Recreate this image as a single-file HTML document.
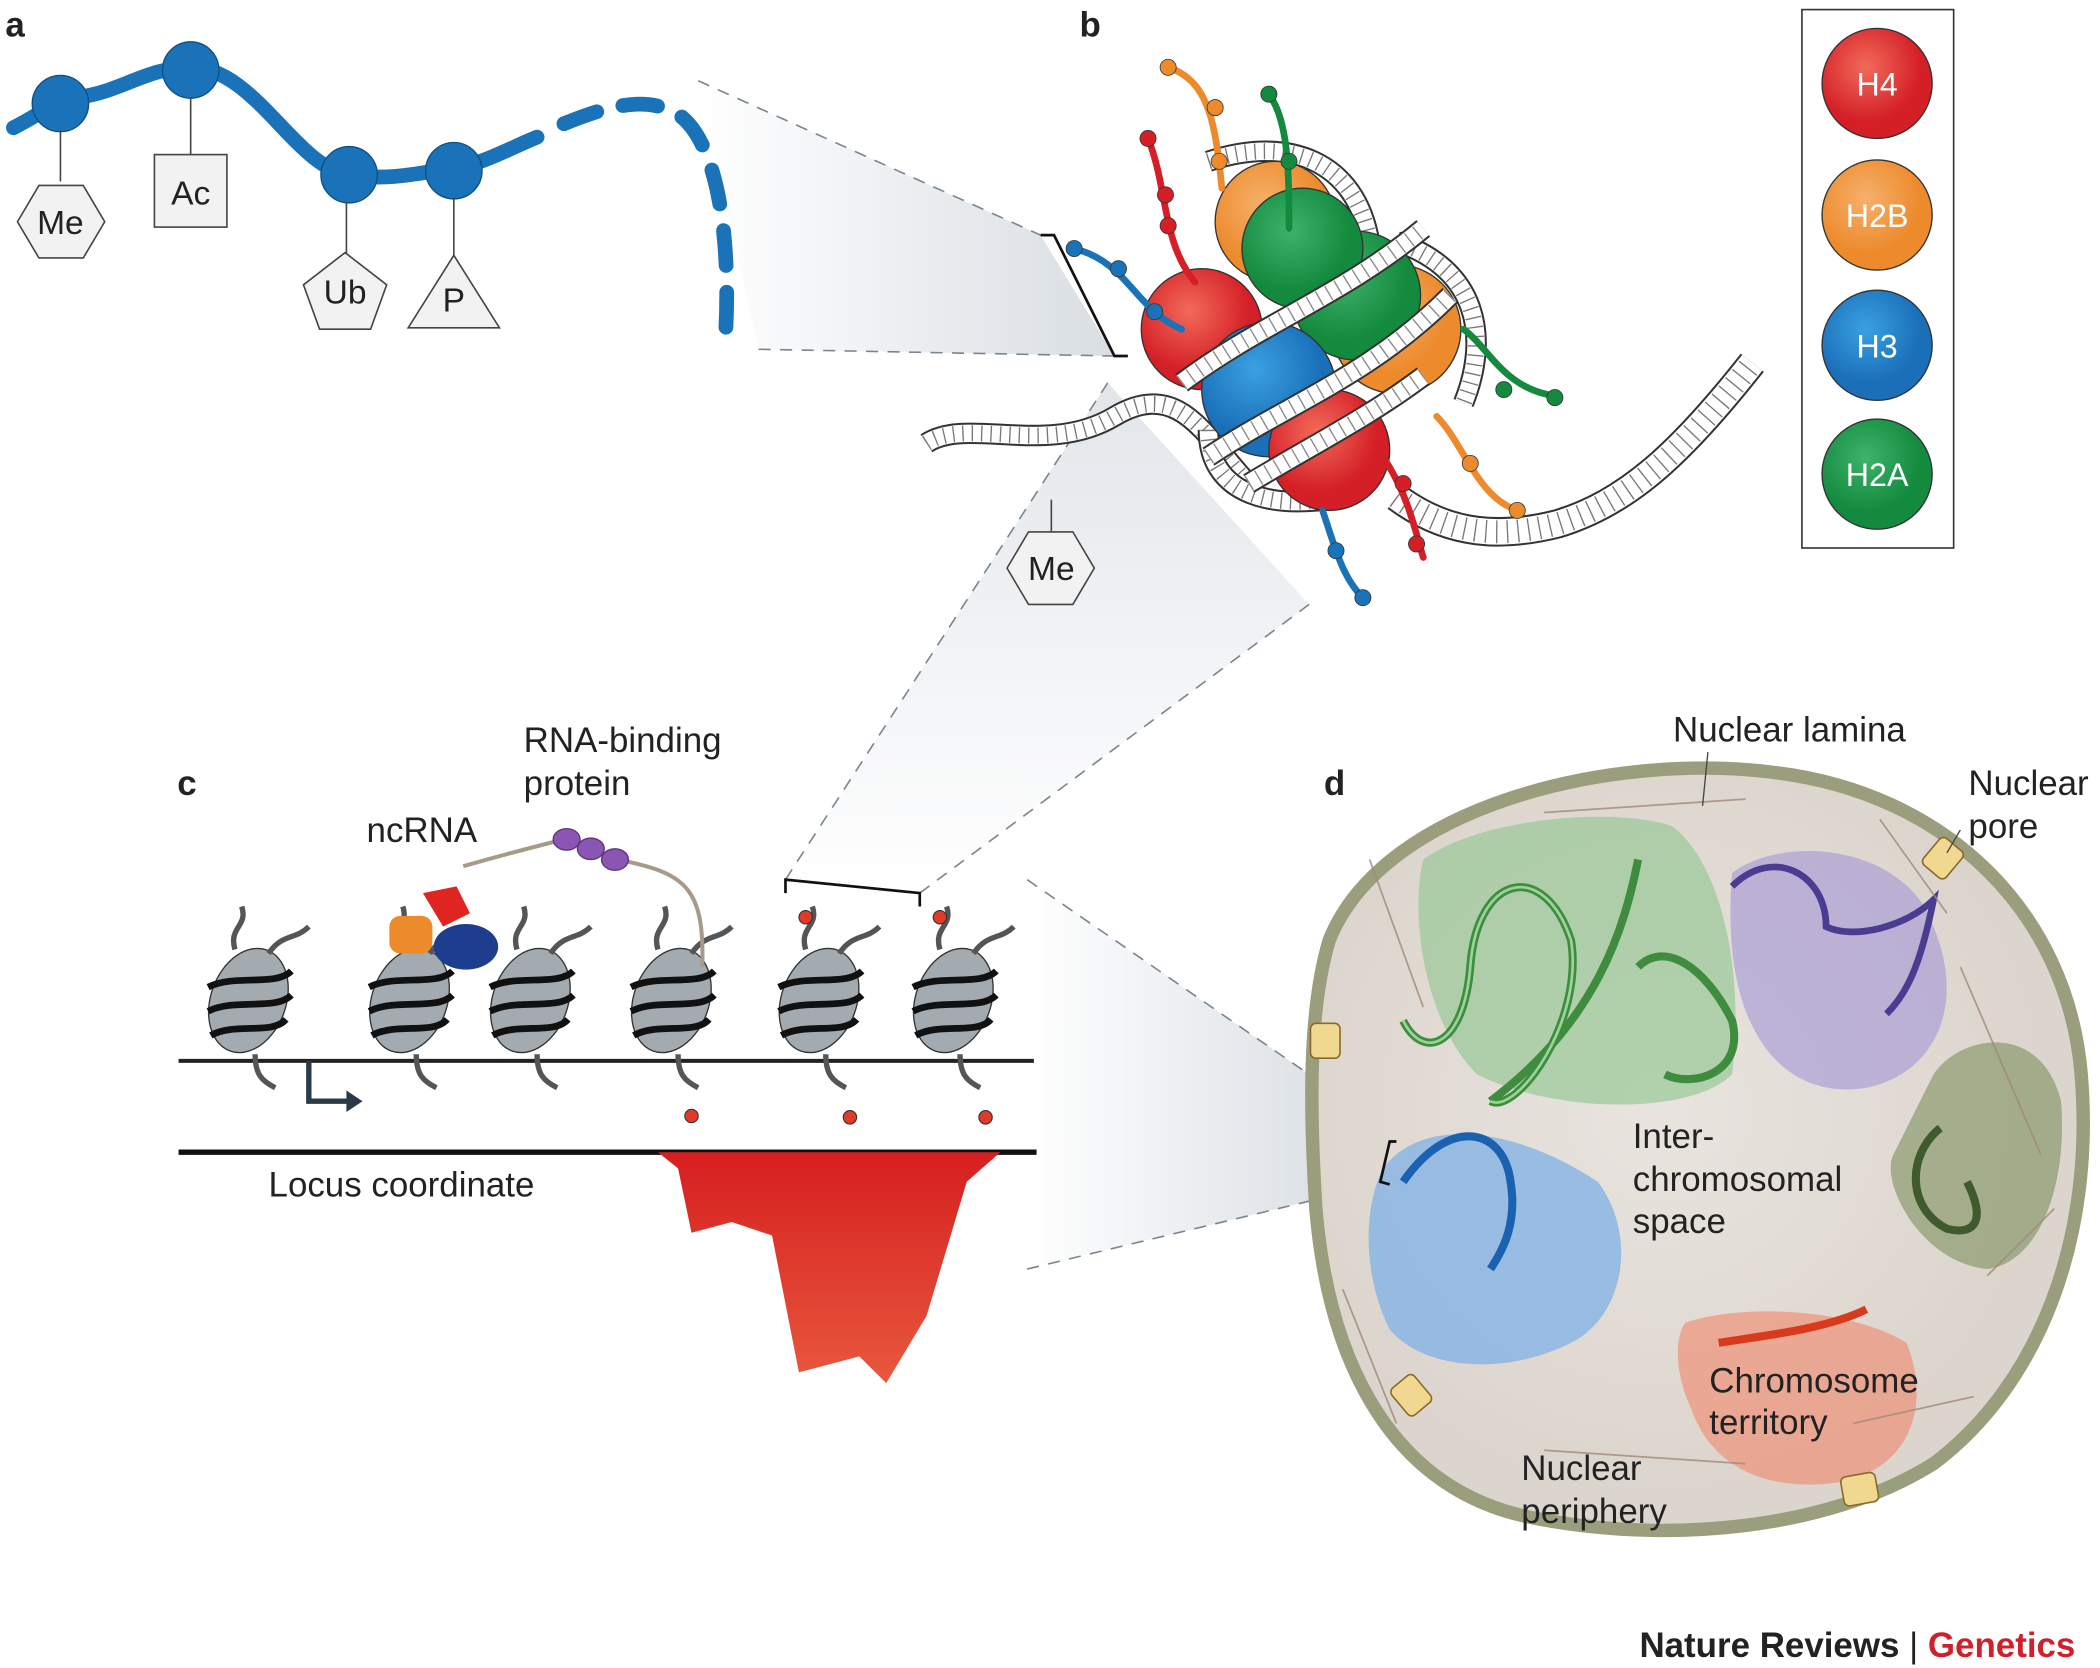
<!DOCTYPE html>
<html><head><meta charset="utf-8"><style>html,body{margin:0;padding:0;background:#fff}svg{display:block}text{font-family:"Liberation Sans",sans-serif}</style></head><body>
<svg width="2100" height="1668" viewBox="0 0 1564 1242" xmlns="http://www.w3.org/2000/svg">
<defs>
<linearGradient id="wg" x1="0" x2="1"><stop offset="0" stop-color="#fff"/><stop offset="1" stop-color="#d9dee3"/></linearGradient>
<linearGradient id="wg2" x1="0" x2="0" y1="1" y2="0"><stop offset="0" stop-color="#fff"/><stop offset="1" stop-color="#e2e6ea"/></linearGradient>
<linearGradient id="wg3" x1="1" x2="0"><stop offset="0" stop-color="#cfd6dc"/><stop offset="1" stop-color="#fff"/></linearGradient>
<linearGradient id="red" x1="0" x2="0" y1="0" y2="1"><stop offset="0" stop-color="#d61f1f"/><stop offset="1" stop-color="#e8583e"/></linearGradient>
<radialGradient id="gR" cx=".4" cy=".35"><stop offset="0" stop-color="#f26a5a"/><stop offset="1" stop-color="#d41f26"/></radialGradient>
<radialGradient id="gO" cx=".4" cy=".35"><stop offset="0" stop-color="#f7b06a"/><stop offset="1" stop-color="#ec8a2c"/></radialGradient>
<radialGradient id="gB" cx=".4" cy=".35"><stop offset="0" stop-color="#3aa0e0"/><stop offset="1" stop-color="#1a6fb8"/></radialGradient>
<radialGradient id="gG" cx=".4" cy=".35"><stop offset="0" stop-color="#3db36a"/><stop offset="1" stop-color="#138a3e"/></radialGradient>
<radialGradient id="gN" cx=".45" cy=".45"><stop offset="0" stop-color="#e9e4df"/><stop offset="1" stop-color="#dcd5cd"/></radialGradient>
</defs>
<g font-weight="bold" font-size="26" fill="#222"><text x="4" y="27">a</text><text x="804" y="27">b</text><text x="132" y="592">c</text><text x="986" y="592">d</text></g>

<polygon points="825,285 975,450 685,665 585,655" fill="url(#wg2)"/>
<path d="M825,285 L585,655 M975,450 L685,665" stroke="#7a8590" stroke-width="1.2" stroke-dasharray="9,7" fill="none"/>
<path d="M585,665 L585,655 L685,665 L685,675" stroke="#111" stroke-width="2" fill="none"/>

<polygon points="520,60 775,175 830,265 565,260" fill="url(#wg)"/>
<path d="M520,60 L775,175 M565,260 L830,265" stroke="#7a8590" stroke-width="1.2" stroke-dasharray="9,7" fill="none"/>
<path d="M775,175 L785,175 L830,265 L840,265" stroke="#111" stroke-width="2" fill="none"/>
<path d="M10,95 C30,85 40,75 60,72 C90,68 110,50 142,50 C190,50 220,125 260,130 C290,135 315,128 338,125 C360,122 380,110 400,102" stroke="#1a72b8" stroke-width="11" fill="none" stroke-linecap="round"/>
<path d="M420,92 C450,80 480,70 505,85 C535,105 545,180 540,255" stroke="#1a72b8" stroke-width="11" fill="none" stroke-linecap="round" stroke-dasharray="26,20"/>
<g fill="#1a72b8" stroke="#0f4f85" stroke-width="1"><circle cx="45" cy="77" r="21"/><circle cx="142" cy="52" r="21"/><circle cx="260" cy="130" r="21"/><circle cx="338" cy="127" r="21"/></g>
<g stroke="#444" stroke-width="1.2" fill="#f2f2f2">
<line x1="45" y1="97" x2="45" y2="135"/><line x1="142" y1="72" x2="142" y2="115"/><line x1="258" y1="150" x2="258" y2="190"/><line x1="338" y1="147" x2="338" y2="190"/>
<polygon points="13,165 29,138 62,138 78,165 62,192 29,192"/>
<rect x="115" y="115" width="54" height="54"/>
<polygon points="257,188 288,212 276,245 238,245 226,212"/>
<polygon points="338,190 372,244 304,244"/>
<polygon points="750,423 766,396 799,396 815,423 799,450 766,450"/>
</g>
<g font-size="25" fill="#222" text-anchor="middle"><text x="45" y="174">Me</text><text x="142" y="152">Ac</text><text x="257" y="226">Ub</text><text x="338" y="232">P</text><text x="783" y="432">Me</text></g>
<line x1="783" y1="396" x2="783" y2="372" stroke="#444" stroke-width="1.2"/>

<g fill="none">
<path d="M690,330 C720,310 780,340 830,310 C880,280 900,330 930,360" stroke="#333" stroke-width="16"/>
<path d="M690,330 C720,310 780,340 830,310 C880,280 900,330 930,360" stroke="#fff" stroke-width="13"/>
<path d="M690,330 C720,310 780,340 830,310 C880,280 900,330 930,360" stroke="#777" stroke-width="12" stroke-dasharray="1,6"/>
<path d="M1040,370 C1080,400 1120,400 1160,390 C1210,375 1250,340 1305,270" stroke="#333" stroke-width="22"/>
<path d="M1040,370 C1080,400 1120,400 1160,390 C1210,375 1250,340 1305,270" stroke="#fff" stroke-width="19"/>
<path d="M1040,370 C1080,400 1120,400 1160,390 C1210,375 1250,340 1305,270" stroke="#777" stroke-width="17" stroke-dasharray="1,7"/>
<path d="M900,120 C960,100 1010,120 1020,180 M1040,180 C1100,200 1110,250 1090,300 M900,320 C900,370 950,380 1000,370" stroke="#333" stroke-width="16"/>
<path d="M900,120 C960,100 1010,120 1020,180 M1040,180 C1100,200 1110,250 1090,300 M900,320 C900,370 950,380 1000,370" stroke="#fff" stroke-width="13"/>
<path d="M900,120 C960,100 1010,120 1020,180 M1040,180 C1100,200 1110,250 1090,300 M900,320 C900,370 950,380 1000,370" stroke="#777" stroke-width="12" stroke-dasharray="1,6"/>
</g>
<g stroke="#333" stroke-width="1">
<circle cx="950" cy="165" r="45" fill="url(#gO)"/>
<circle cx="1040" cy="245" r="48" fill="url(#gO)"/>
<circle cx="1010" cy="220" r="48" fill="url(#gG)"/>
<circle cx="970" cy="185" r="45" fill="url(#gG)"/>
<circle cx="895" cy="245" r="45" fill="url(#gR)"/>
<circle cx="945" cy="290" r="50" fill="url(#gB)"/>
<circle cx="990" cy="335" r="45" fill="url(#gR)"/>
</g>
<g fill="none">
<path d="M880,285 C940,240 1000,220 1060,170 M900,340 C960,300 1020,280 1080,220 M930,360 C980,330 1020,310 1060,280" stroke="#333" stroke-width="16"/>
<path d="M880,285 C940,240 1000,220 1060,170 M900,340 C960,300 1020,280 1080,220 M930,360 C980,330 1020,310 1060,280" stroke="#fff" stroke-width="13"/>
<path d="M880,285 C940,240 1000,220 1060,170 M900,340 C960,300 1020,280 1080,220 M930,360 C980,330 1020,310 1060,280" stroke="#888" stroke-width="12" stroke-dasharray="1,7"/>
</g>
<g fill="none" stroke-width="5" stroke-linecap="round">
<path d="M800,185 C840,195 845,230 880,245" stroke="#1a72b8"/>
<path d="M855,103 C870,140 865,180 890,210" stroke="#d41f26"/>
<path d="M870,50 C900,60 905,90 910,140" stroke="#ec8a2c"/>
<path d="M945,70 C960,90 960,130 960,170" stroke="#138a3e"/>
<path d="M1090,245 C1110,260 1120,290 1160,295" stroke="#138a3e"/>
<path d="M1070,310 C1090,330 1100,370 1130,380" stroke="#ec8a2c"/>
<path d="M1030,340 C1050,370 1055,400 1060,415" stroke="#d41f26"/>
<path d="M985,380 C995,410 1000,430 1015,445" stroke="#1a72b8"/>
</g>
<g stroke="#333" stroke-width=".6">
<g fill="#1a72b8"><circle cx="800" cy="185" r="6"/><circle cx="833" cy="200" r="6"/><circle cx="860" cy="232" r="6"/><circle cx="995" cy="410" r="6"/><circle cx="1015" cy="445" r="6"/></g>
<g fill="#d41f26"><circle cx="855" cy="103" r="6"/><circle cx="868" cy="145" r="6"/><circle cx="870" cy="168" r="6"/><circle cx="1045" cy="360" r="6"/><circle cx="1055" cy="405" r="6"/></g>
<g fill="#ec8a2c"><circle cx="870" cy="50" r="6"/><circle cx="905" cy="80" r="6"/><circle cx="908" cy="120" r="6"/><circle cx="1095" cy="345" r="6"/><circle cx="1130" cy="380" r="6"/></g>
<g fill="#138a3e"><circle cx="945" cy="70" r="6"/><circle cx="960" cy="120" r="6"/><circle cx="1120" cy="290" r="6"/><circle cx="1158" cy="296" r="6"/></g>
</g>
<rect x="1342" y="7" width="113" height="401" fill="#fff" stroke="#333" stroke-width="1.2"/>
<g stroke="#333" stroke-width="1"><circle cx="1398" cy="62" r="41" fill="url(#gR)"/><circle cx="1398" cy="160" r="41" fill="url(#gO)"/><circle cx="1398" cy="257" r="41" fill="url(#gB)"/><circle cx="1398" cy="353" r="41" fill="url(#gG)"/></g>
<g font-size="24" fill="#fff" text-anchor="middle"><text x="1398" y="71">H4</text><text x="1398" y="169">H2B</text><text x="1398" y="266">H3</text><text x="1398" y="362">H2A</text></g>

<polygon points="765,655 1040,845 1035,880 765,945" fill="url(#wg3)" opacity=".9"/>
<path d="M765,655 L1040,845 M765,945 L1035,880" stroke="#7a8590" stroke-width="1.2" stroke-dasharray="9,7" fill="none"/>

<line x1="133" y1="790" x2="770" y2="790" stroke="#222" stroke-width="3"/>
<g id="nucs">
<g transform="translate(185,745)"><ellipse cx="0" cy="0" rx="28" ry="40" fill="#a3aab0" stroke="#333" transform="rotate(20)"/><path d="M-30,-10 C-10,-20 20,-10 32,-22 M-30,8 C-10,-2 20,8 32,-4 M-28,26 C-10,16 18,26 28,14" stroke="#111" stroke-width="5" fill="none"/><path d="M-10,-38 C-15,-55 0,-55 -5,-70 M15,-35 C25,-50 35,-45 45,-55 M5,40 C5,55 10,60 20,65" stroke="#555" stroke-width="4" fill="none"/></g>
</g>
<use href="#nucs" x="120"/><use href="#nucs" x="210"/><use href="#nucs" x="315"/><use href="#nucs" x="425"/><use href="#nucs" x="525"/>
<g fill="#e03a2a" stroke="#333" stroke-width=".8"><circle cx="515" cy="831" r="5"/><circle cx="600" cy="683" r="5"/><circle cx="633" cy="832" r="5"/><circle cx="700" cy="683" r="5"/><circle cx="734" cy="832" r="5"/></g>
<path d="M345,645 C380,635 400,630 420,625 M460,640 C510,650 525,660 523,720" stroke="#a89a88" stroke-width="3" fill="none"/>
<g fill="#8b55b3" stroke="#5b3380"><ellipse cx="422" cy="625" rx="10" ry="8"/><ellipse cx="440" cy="632" rx="10" ry="8"/><ellipse cx="458" cy="640" rx="10" ry="8"/></g>
<path d="M315,665 L340,660 L350,680 L330,690 Z" fill="#e0241f"/>
<rect x="290" y="682" width="32" height="28" rx="8" fill="#ec8a2c"/>
<ellipse cx="347" cy="705" rx="24" ry="17" fill="#1d3d8f"/>
<path d="M230,790 L230,820 L262,820" stroke="#2a3a48" stroke-width="4" fill="none"/><path d="M258,812 L270,820 L258,828 Z" fill="#2a3a48"/>
<line x1="133" y1="858" x2="772" y2="858" stroke="#111" stroke-width="4"/>
<polygon points="490,858 745,858 720,880 690,980 660,1030 640,1010 595,1022 575,920 545,910 515,918 505,870" fill="url(#red)"/>
<g font-size="26" fill="#222"><text x="200" y="891">Locus coordinate</text><text x="390" y="560">RNA-binding</text><text x="390" y="592">protein</text><text x="273" y="627">ncRNA</text></g>

<path d="M990,700 C1030,600 1200,560 1320,575 C1450,590 1540,680 1550,800 C1560,920 1520,1030 1440,1090 C1360,1140 1240,1150 1140,1130 C1040,1110 990,1020 980,900 C975,820 975,750 990,700 Z" fill="url(#gN)" stroke="#9a9e7c" stroke-width="10"/>
<path d="M1060,640 C1100,610 1200,600 1245,615 C1280,640 1300,720 1290,800 C1260,830 1160,830 1100,800 C1060,760 1050,680 1060,640 Z" fill="#8cc48c" opacity=".6"/>
<path d="M1290,650 C1330,620 1420,630 1440,690 C1465,750 1440,800 1390,810 C1330,820 1280,770 1290,650 Z" fill="#a79bd6" opacity=".65"/>
<path d="M1440,800 C1460,770 1520,760 1535,820 C1540,880 1520,940 1480,945 C1430,940 1400,880 1410,860 C1420,840 1430,820 1440,800 Z" fill="#8a9a6e" opacity=".7"/>
<path d="M1030,870 C1060,830 1130,840 1190,880 C1220,920 1210,980 1170,1000 C1120,1025 1060,1020 1035,990 C1015,950 1015,900 1030,870 Z" fill="#7fb0e6" opacity=".75"/>
<path d="M1255,985 C1300,970 1380,975 1420,1000 C1440,1050 1420,1100 1360,1105 C1300,1110 1270,1080 1260,1050 C1250,1030 1245,1000 1255,985 Z" fill="#f0876a" opacity=".6"/>
<path d="M1045,760 C1060,790 1090,780 1095,720 C1100,650 1150,640 1170,700 C1180,760 1130,830 1110,820 M1110,820 C1190,760 1210,690 1220,640 M1220,720 C1240,700 1270,720 1290,760 C1300,800 1260,810 1240,800" stroke="#3f8c3f" stroke-width="6" fill="none"/>
<path d="M1045,760 C1060,790 1090,780 1095,720 C1100,650 1150,640 1170,700 C1180,760 1130,830 1110,820" stroke="#9ad49a" stroke-width="2" fill="none"/>
<path d="M1290,660 C1320,630 1360,650 1360,690 C1380,700 1420,690 1440,670 C1430,720 1420,740 1405,755" stroke="#4a3c90" stroke-width="5" fill="none"/>
<path d="M1445,840 C1420,860 1420,900 1450,915 C1470,920 1480,910 1465,880" stroke="#3f5a2c" stroke-width="6" fill="none"/>
<path d="M1045,880 C1080,830 1120,840 1125,880 C1130,910 1120,930 1110,945" stroke="#1a62b0" stroke-width="6" fill="none"/>
<path d="M1280,1000 C1310,995 1360,990 1390,975" stroke="#d83a1c" stroke-width="6" fill="none"/>
<path d="M1040,850 L1035,850 L1028,880 L1035,882" stroke="#111" stroke-width="2" fill="none"/>
<g stroke="#a08a78" stroke-width="1.3" opacity=".8">
<line x1="1150" y1="605" x2="1300" y2="595"/><line x1="1020" y1="640" x2="1060" y2="750"/><line x1="1460" y1="720" x2="1520" y2="860"/><line x1="1000" y1="960" x2="1040" y2="1060"/><line x1="1150" y1="1080" x2="1300" y2="1090"/><line x1="1380" y1="1060" x2="1470" y2="1040"/><line x1="1480" y1="950" x2="1530" y2="900"/><line x1="1400" y1="610" x2="1450" y2="680"/>
</g>
<g fill="#f1d890" stroke="#8a6a2a" stroke-width="1.2">
<rect x="1436" y="626" width="22" height="26" rx="4" transform="rotate(40 1447 639)"/>
<rect x="976" y="762" width="22" height="26" rx="4"/>
<rect x="1040" y="1026" width="22" height="26" rx="4" transform="rotate(-40 1051 1039)"/>
<rect x="1374" y="1096" width="22" height="26" rx="4" transform="rotate(80 1385 1109)"/>
</g>
<g font-size="26" fill="#222">
<text x="1246" y="552">Nuclear lamina</text><text x="1466" y="592">Nuclear</text><text x="1466" y="624">pore</text>
<text x="1216" y="855">Inter-</text><text x="1216" y="887">chromosomal</text><text x="1216" y="918">space</text>
<text x="1273" y="1037">Chromosome</text><text x="1273" y="1068">territory</text>
<text x="1133" y="1102">Nuclear</text><text x="1133" y="1134">periphery</text>
</g>
<path d="M1272,560 L1268,600 M1460,618 L1450,635" stroke="#444" stroke-width="1"/>
<text x="1221" y="1234" font-size="26" font-weight="bold" fill="#222">Nature Reviews <tspan font-weight="normal">|</tspan> <tspan fill="#d0202a">Genetics</tspan></text>
</svg>
</body></html>
